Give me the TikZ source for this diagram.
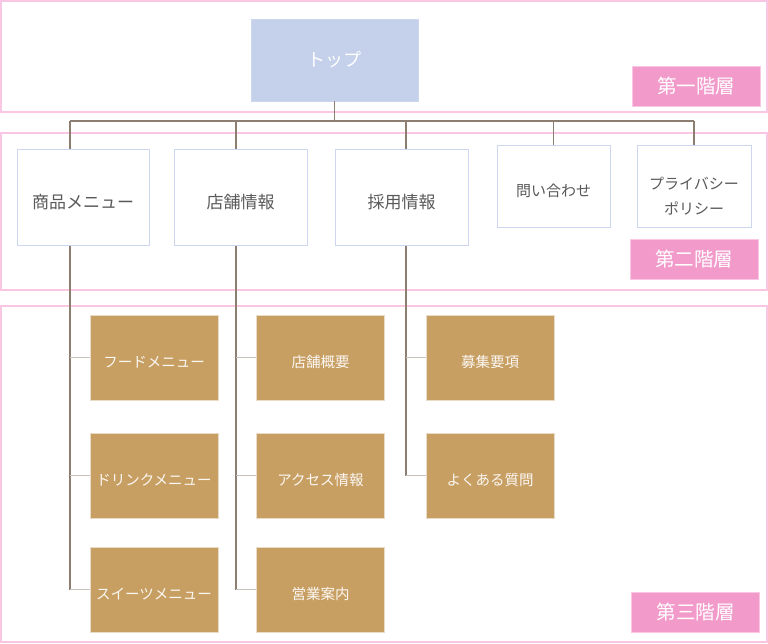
\documentclass[tikz,border=0pt]{standalone}
\usepackage{fontspec}
\setmainfont{Noto Sans CJK JP}
\usetikzlibrary{positioning}
\definecolor{bandpink}{HTML}{F9C6E4}
\definecolor{tagpink}{HTML}{F29BCB}
\definecolor{topblue}{HTML}{C5D1EB}
\definecolor{lineblue}{HTML}{CCD7EF}
\definecolor{tan}{HTML}{C89F63}
\definecolor{tanline}{HTML}{EADCC6}
\definecolor{trunk}{HTML}{8C7F72}
\definecolor{twig}{HTML}{C8C2BA}
\definecolor{graytext}{HTML}{595959}

\begin{document}
\begin{tikzpicture}[x=1pt,y=-1pt,
  band/.style={draw=bandpink,line width=1.2pt},
  tag/.style={fill=tagpink,draw=bandpink,text=white,minimum width=128,minimum height=40,inner sep=0pt,font=\fontsize{19.5}{22}\selectfont},
  topbox/.style={fill=topblue,draw=lineblue,text=white,minimum width=167,minimum height=82,inner sep=0pt,font=\fontsize{18}{22}\selectfont},
  secbox/.style={fill=white,draw=lineblue,line width=1pt,text=graytext,inner sep=0pt,text height=22pt,text depth=0pt},
  subbox/.style={fill=tan,draw=tanline,text=white!92!tan,minimum width=128,minimum height=85,inner sep=0pt,text height=19pt,text depth=0pt,font=\fontsize{14.5}{18}\selectfont},
  link/.style={draw=trunk,line width=1.2pt},
  branch/.style={draw=twig,line width=1.2pt}]
  \useasboundingbox (0,0) rectangle (768,644);
  % level bands
  \draw[band] (1,1) rectangle (767,112);
  \draw[band] (1,133) rectangle (767,290);
  \draw[band] (1,306) rectangle (767,642);
  % first level
  \node[topbox] (top) at (334.5,60) {トップ};
  \node[tag] (lv1) at (696,86) {第一階層};
  % second level
  \node[secbox,minimum width=132,minimum height=96,font=\fontsize{17}{20}\selectfont] (menu) at (83,198) {商品メニュー};
  \node[secbox,minimum width=133,minimum height=96,font=\fontsize{17}{20}\selectfont] (shop) at (240.5,198) {店舗情報};
  \node[secbox,minimum width=133,minimum height=96,font=\fontsize{17}{20}\selectfont] (jobs) at (401.5,198) {採用情報};
  \node[secbox,text height=19.5pt,minimum width=113,minimum height=82,font=\fontsize{15}{18}\selectfont] (contact) at (553.5,187) {問い合わせ};
  \node[secbox,text height=,text depth=,minimum width=114,minimum height=82,font=\fontsize{15}{25}\selectfont] (privacy) at (694,187)
    {\raisebox{-14pt}[0pt][0pt]{\begin{tabular}{@{}c@{}}プライバシー\\ポリシー\end{tabular}}};
  \node[tag] (lv2) at (694,259) {第二階層};
  % third level
  \node[subbox] (food) at (154,357.5) {フードメニュー};
  \node[subbox] (drink) at (154,475.5) {ドリンクメニュー};
  \node[subbox] (sweets) at (154,589.5) {スイーツメニュー};
  \node[subbox] (outline) at (320.5,357.5) {店舗概要};
  \node[subbox] (access) at (320.5,475.5) {アクセス情報};
  \node[subbox] (hours) at (320.5,589.5) {営業案内};
  \node[subbox] (recruit) at (490,357.5) {募集要項};
  \node[subbox] (faq) at (490,475.5) {よくある質問};
  \node[tag] (lv3) at (695.5,612) {第三階層};
  % connectors
  \coordinate (bus) at (0,121);
  \coordinate (c1) at (70,0);
  \coordinate (c2) at (236,0);
  \coordinate (c3) at (406,0);
  \coordinate (c4) at (553.5,0);
  \coordinate (c5) at (694,0);
  \draw[link] (top.south) -- (top.south |- bus);
  \draw[link] (c1 |- bus) -- (c5 |- bus);
  \draw[link] (c1 |- bus) -- (c1 |- menu.north);
  \draw[link] (c2 |- bus) -- (c2 |- shop.north);
  \draw[link] (c3 |- bus) -- (c3 |- jobs.north);
  \draw[link] (c4 |- bus) -- (contact.north);
  \draw[link] (c5 |- bus) -- (privacy.north);
  \draw[link] (c1 |- menu.south) -- (c1 |- sweets.west);
  \draw[link] (c2 |- shop.south) -- (c2 |- hours.west);
  \draw[link] (c3 |- jobs.south) -- (c3 |- faq.west);
  \draw[branch] (c1 |- food.west) -- (food.west);
  \draw[branch] (c1 |- drink.west) -- (drink.west);
  \draw[branch] (c1 |- sweets.west) -- (sweets.west);
  \draw[branch] (c2 |- outline.west) -- (outline.west);
  \draw[branch] (c2 |- access.west) -- (access.west);
  \draw[branch] (c2 |- hours.west) -- (hours.west);
  \draw[branch] (c3 |- recruit.west) -- (recruit.west);
  \draw[branch] (c3 |- faq.west) -- (faq.west);
\end{tikzpicture}
\end{document}
